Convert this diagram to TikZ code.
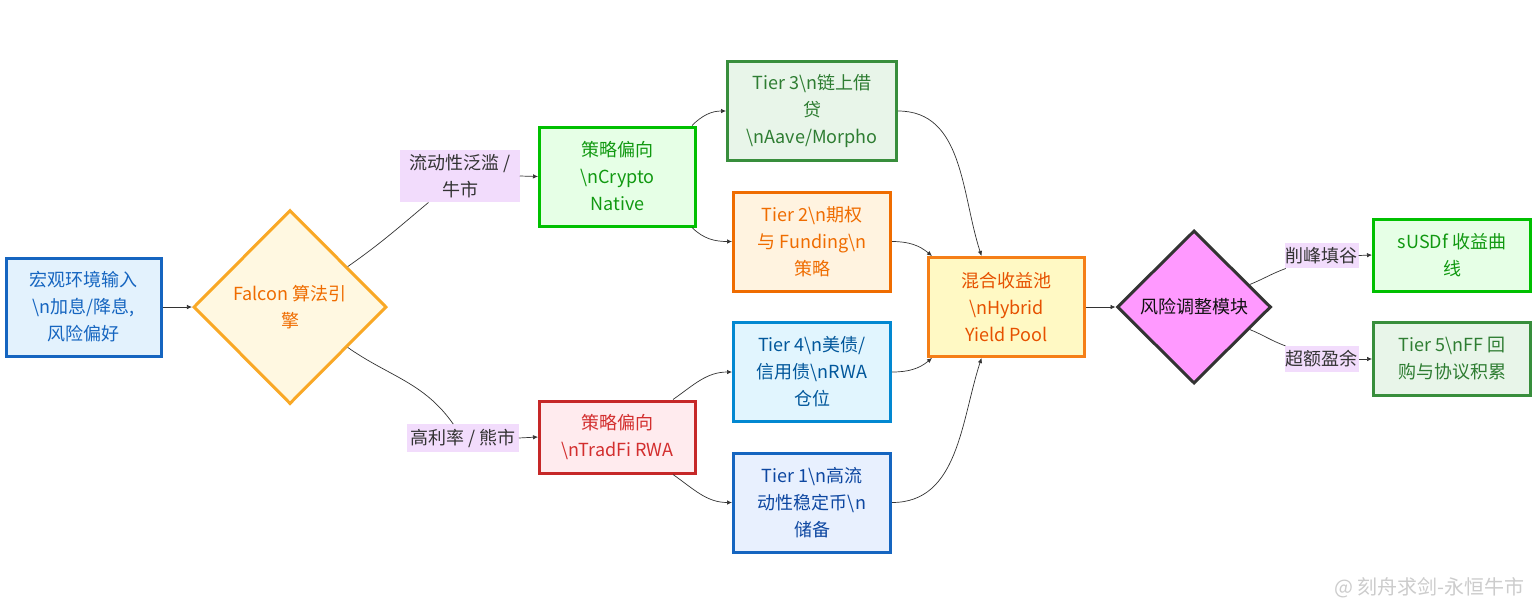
\documentclass[tikz,border=0pt]{standalone}
\usepackage{fontspec}
\setmainfont{Noto Sans CJK SC}
\usetikzlibrary{shapes.geometric,arrows.meta}
\definecolor{inD}{HTML}{1565C0}\definecolor{inF}{HTML}{E3F2FD}\definecolor{inT}{HTML}{1565C0}
\definecolor{faD}{HTML}{F9A825}\definecolor{faF}{HTML}{FFF8E1}\definecolor{faT}{HTML}{EF6C00}
\definecolor{crD}{HTML}{00C000}\definecolor{crF}{HTML}{E6FFE6}\definecolor{crT}{HTML}{119911}
\definecolor{trD}{HTML}{C62828}\definecolor{trF}{HTML}{FFEBEE}\definecolor{trT}{HTML}{D32F2F}
\definecolor{gnD}{HTML}{388E3C}\definecolor{gnF}{HTML}{E8F5E9}\definecolor{gnT}{HTML}{2E7D32}
\definecolor{orD}{HTML}{EF6C00}\definecolor{orF}{HTML}{FFF3E0}\definecolor{orT}{HTML}{EF6C00}
\definecolor{ltD}{HTML}{0288D1}\definecolor{ltF}{HTML}{E1F5FE}\definecolor{ltT}{HTML}{01579B}
\definecolor{dbD}{HTML}{1565C0}\definecolor{dbF}{HTML}{E8F0FE}\definecolor{dbT}{HTML}{0D47A1}
\definecolor{poD}{HTML}{F57F17}\definecolor{poF}{HTML}{FFF9C4}\definecolor{poT}{HTML}{E65100}
\definecolor{rkD}{HTML}{333333}\definecolor{rkF}{HTML}{FF99FF}\definecolor{rkT}{HTML}{111111}
\definecolor{lblF}{HTML}{F2DCFC}\definecolor{lblT}{HTML}{333333}
\definecolor{edgeC}{HTML}{333333}
\newcommand{\fsz}{\fontsize{18pt}{27pt}\selectfont}
\newcommand{\bsn}{\textbackslash n}
\begin{document}
\begin{tikzpicture}[x=1pt,y=1pt,
    box/.style n args={3}{draw=#1, fill=#2, text=#3, line width=3pt, rectangle, align=center, font=\fsz, inner sep=0pt},
    dia/.style n args={3}{draw=#1, fill=#2, text=#3, line width=3pt, diamond, align=center, font=\fsz, inner sep=0pt},
    lbl/.style={fill=lblF, text=lblT, align=center, font=\fsz, inner xsep=3pt, inner ysep=4.5pt},
    ln/.style={draw=edgeC, line width=0.7pt},
    arr/.style={ln, -{Latex[length=5pt,width=4.5pt]}}]
  \fill[white] (0,0) rectangle (1536,-614);
  \useasboundingbox (0,0) rectangle (1536,-614);
  \node[box={inD}{inF}{inT}, minimum width=155, minimum height=98] (input) at (83.5,-307) {宏观环境输入\\\bsn 加息/降息,\\风险偏好};
  \node[dia={faD}{faF}{faT}, minimum width=193, minimum height=194] (falcon) at (290,-307) {Falcon 算法引\\擎};
  \node[lbl, inner xsep=9pt] (lab1) at (460,-176) {流动性泛滥 /\\牛市};
  \node[lbl] (lab2) at (463,-438) {高利率 / 熊市};
  \node[box={crD}{crF}{crT}, minimum width=156, minimum height=99] (crypto) at (617.5,-176.5) {策略偏向\\\bsn Crypto\\Native};
  \node[box={trD}{trF}{trT}, minimum width=156, minimum height=72] (tradfi) at (617.5,-437) {策略偏向\\\bsn TradFi RWA};
  \node[box={gnD}{gnF}{gnT}, minimum width=169, minimum height=99] (tier3) at (812,-111) {Tier 3\bsn 链上借\\贷\\\bsn Aave/Morpho};
  \node[box={orD}{orF}{orT}, minimum width=157, minimum height=99] (tier2) at (812,-241.5) {Tier 2\bsn 期权\\与 Funding\bsn\\策略};
  \node[box={ltD}{ltF}{ltT}, minimum width=157, minimum height=99] (tier4) at (812,-372) {Tier 4\bsn 美债/\\信用债\bsn RWA\\仓位};
  \node[box={dbD}{dbF}{dbT}, minimum width=157, minimum height=99] (tier1) at (812,-502.5) {Tier 1\bsn 高流\\动性稳定币\bsn\\储备};
  \node[box={poD}{poF}{poT}, minimum width=156, minimum height=99] (pool) at (1006.5,-307) {混合收益池\\\bsn Hybrid\\Yield Pool};
  \node[dia={rkD}{rkF}{rkT}, minimum width=154, minimum height=153] (risk) at (1194,-307) {风险调整模块};
  \node[lbl, inner xsep=1pt] (lab3) at (1321.5,-255.5) {削峰填谷};
  \node[lbl, inner xsep=1pt] (lab4) at (1321.5,-359) {超额盈余};
  \node[box={crD}{crF}{crT}, minimum width=157, minimum height=72] (susdf) at (1452,-255) {sUSDf 收益曲\\线};
  \node[box={gnD}{gnF}{gnT}, minimum width=157, minimum height=73] (tier5) at (1452,-359) {Tier 5\bsn FF 回\\购与协议积累};
  \node[text=black!20, font=\fontsize{20pt}{24pt}\selectfont, anchor=east] (wm) at (1528,-588) {@ 刻舟求剑-永恒牛市};
  \draw[arr] (input) -- (falcon);
  \draw[ln] (falcon) to[out=35,in=220] (lab1);
  \draw[arr] (lab1.east) -- (crypto.west);
  \draw[ln] (falcon) to[out=-35,in=125] (lab2);
  \draw[arr] (lab2.east) -- (tradfi.west);
  \draw[arr] ([xshift=-5pt]crypto.north east) to[out=45,in=180] (tier3.west);
  \draw[arr] ([xshift=-5pt]crypto.south east) to[out=-45,in=180] (tier2.west);
  \draw[arr] ([xshift=-24pt]tradfi.north east) to[out=35,in=180] (tier4.west);
  \draw[arr] ([xshift=-24pt]tradfi.south east) to[out=-35,in=180] (tier1.west);
  \draw[arr] (tier3.east) to[out=0,in=108] ([xshift=-25pt]pool.north);
  \draw[arr] (tier2.east) to[out=0,in=140] ([xshift=5pt]pool.north west);
  \draw[arr] (tier4.east) to[out=0,in=-140] ([xshift=5pt]pool.south west);
  \draw[arr] (tier1.east) to[out=0,in=-108] ([xshift=-25pt]pool.south);
  \draw[arr] (pool) -- (risk);
  \draw[ln] (risk) to[out=22,in=200] (lab3);
  \draw[arr] (lab3.east) -- (susdf.west);
  \draw[ln] (risk) to[out=-22,in=160] (lab4);
  \draw[arr] (lab4.east) -- (tier5.west);
\end{tikzpicture}
\end{document}
